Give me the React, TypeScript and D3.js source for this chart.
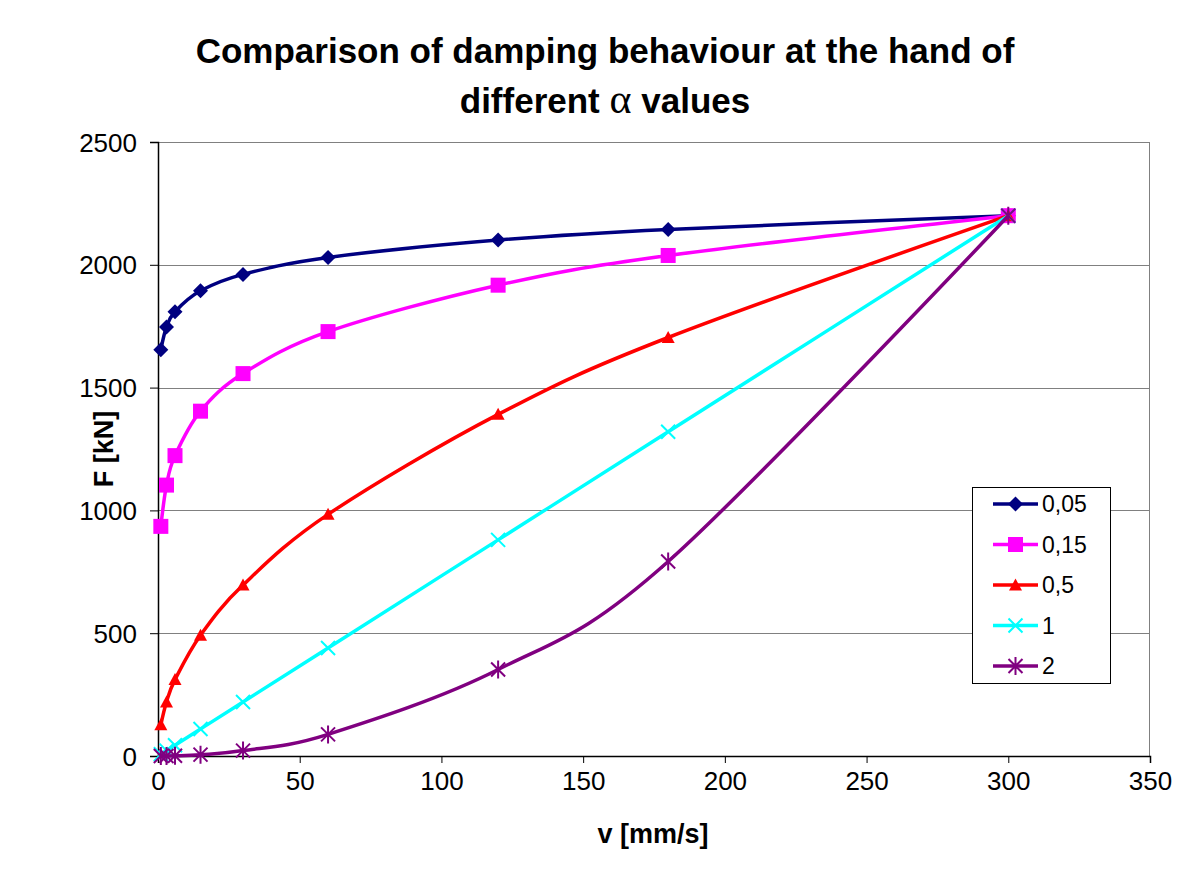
import React, { useEffect, useRef } from 'react';
import * as d3 from 'd3';

// velocities [mm/s]
const velocities = [1, 3, 6, 15, 30, 60, 120, 180, 300];

// damping force [kN] for each alpha
const alpha005 = [1654, 1747, 1809, 1894, 1961, 2030, 2101, 2144, 2200];
const alpha015 = [935, 1103, 1223, 1404, 1557, 1728, 1917, 2038, 2200];
const alpha05 = [127, 220, 311, 492, 696, 984, 1391, 1704, 2200];
const alpha1 = [7, 22, 44, 110, 220, 440, 880, 1320, 2200];
const alpha2 = [0, 0.2, 0.9, 5.5, 22, 88, 352, 792, 2200];

const seriesNames = ['0,05', '0,15', '0,5', '1', '2'];
const seriesColors = ['#000080', '#ff00ff', '#ff0000', '#00ffff', '#800080'];
const seriesMarkers = ['diamond', 'square', 'triangle', 'cross', 'star'];

const xTicks = [0, 50, 100, 150, 200, 250, 300, 350];
const yTicks = [0, 500, 1000, 1500, 2000, 2500];

const font = '"Liberation Sans", Arial, sans-serif';

function drawMarker(g, type, x, y, color) {
  if (type === 'diamond') {
    g.append('path')
      .attr('d', `M${x},${y - 7.5}L${x + 7.5},${y}L${x},${y + 7.5}L${x - 7.5},${y}Z`)
      .attr('fill', color);
  } else if (type === 'square') {
    g.append('rect')
      .attr('x', x - 7.5).attr('y', y - 7.5)
      .attr('width', 15).attr('height', 15)
      .attr('fill', color);
  } else if (type === 'triangle') {
    g.append('path')
      .attr('d', `M${x},${y - 6.5}L${x + 6.5},${y + 5.5}L${x - 6.5},${y + 5.5}Z`)
      .attr('fill', color);
  } else if (type === 'cross') {
    g.append('path')
      .attr('d', `M${x - 7},${y - 7}L${x + 7},${y + 7}M${x - 7},${y + 7}L${x + 7},${y - 7}`)
      .attr('stroke', color).attr('stroke-width', 2).attr('fill', 'none');
  } else {
    g.append('path')
      .attr('d', `M${x - 7},${y - 7}L${x + 7},${y + 7}M${x - 7},${y + 7}L${x + 7},${y - 7}M${x},${y - 9}L${x},${y + 9}`)
      .attr('stroke', color).attr('stroke-width', 2).attr('fill', 'none');
  }
}

export default function App() {
  const ref = useRef(null);

  useEffect(() => {
    const width = 1200;
    const height = 884;
    const margin = { top: 142, right: 50, bottom: 128, left: 158 };
    const innerW = width - margin.left - margin.right;
    const innerH = height - margin.top - margin.bottom;

    const root = d3.select(ref.current);
    root.selectAll('*').remove();

    const svg = root
      .append('svg')
      .attr('width', width)
      .attr('height', height)
      .style('display', 'block')
      .style('font-family', font);

    svg.append('rect')
      .attr('x', 0.5).attr('y', 0.5)
      .attr('width', width - 1).attr('height', height - 1)
      .attr('fill', '#fff').attr('stroke', '#808080');

    const x = d3.scaleLinear().domain([0, 350]).range([0, innerW]);
    const y = d3.scaleLinear().domain([0, 2500]).range([innerH, 0]);

    const g = svg.append('g').attr('transform', `translate(${margin.left},${margin.top})`);

    // gridlines
    g.append('g')
      .selectAll('line')
      .data(yTicks.filter((d) => d > 0))
      .join('line')
      .attr('x1', 0).attr('x2', innerW)
      .attr('y1', (d) => Math.round(y(d)) + 0.5)
      .attr('y2', (d) => Math.round(y(d)) + 0.5)
      .attr('stroke', '#808080').attr('stroke-width', 1);

    g.append('line')
      .attr('x1', innerW - 0.5).attr('x2', innerW - 0.5)
      .attr('y1', 0).attr('y2', innerH)
      .attr('stroke', '#808080');

    // axes
    const xAxis = g.append('g')
      .attr('transform', `translate(0,${innerH})`)
      .call(d3.axisBottom(x).tickValues(xTicks).tickFormat(d3.format('d')).tickSize(7).tickPadding(9));
    const yAxis = g.append('g')
      .call(d3.axisLeft(y).tickValues(yTicks).tickFormat(d3.format('d')).tickSize(8).tickPadding(13));
    [xAxis, yAxis].forEach((a) => {
      a.select('.domain').attr('stroke', '#000').attr('stroke-width', 1.5);
      a.selectAll('.tick line').attr('stroke', '#000');
      a.selectAll('.tick text')
        .attr('font-size', 26)
        .attr('font-family', font)
        .attr('fill', '#000');
    });
    yAxis.selectAll('.tick text').attr('dy', '0.35em');

    const allSeries = [alpha005, alpha015, alpha05, alpha1, alpha2];

    const line = d3.line()
      .x((d) => x(d[0]))
      .y((d) => y(d[1]))
      .curve(d3.curveCatmullRom.alpha(0));

    allSeries.forEach((vals, i) => {
      const pts = velocities.map((v, j) => [v, vals[j]]);
      const sg = g.append('g');
      sg.append('path')
        .datum(pts)
        .attr('d', line)
        .attr('fill', 'none')
        .attr('stroke', seriesColors[i])
        .attr('stroke-width', 3.5);
      pts.forEach((p) => drawMarker(sg, seriesMarkers[i], x(p[0]), y(p[1]), seriesColors[i]));
    });

    // legend
    const lg = svg.append('g').attr('transform', 'translate(972,487)');
    lg.append('rect')
      .attr('x', 0.5).attr('y', 0.5)
      .attr('width', 138).attr('height', 196)
      .attr('fill', '#fff').attr('stroke', '#000');
    seriesNames.forEach((name, i) => {
      const cy = 17 + i * 40.5;
      lg.append('line')
        .attr('x1', 21).attr('x2', 66)
        .attr('y1', cy).attr('y2', cy)
        .attr('stroke', seriesColors[i]).attr('stroke-width', 3.5);
      drawMarker(lg, seriesMarkers[i], 43.5, cy, seriesColors[i]);
      lg.append('text')
        .attr('x', 70).attr('y', cy)
        .attr('dy', '0.36em')
        .attr('font-size', 23)
        .text(name);
    });

    // title
    const title = svg.append('text')
      .attr('text-anchor', 'middle')
      .attr('font-weight', 'bold')
      .attr('font-size', 35);
    title.append('tspan').attr('x', 605).attr('y', 63)
      .text('Comparison of damping behaviour at the hand of');
    const t2 = title.append('tspan').attr('x', 605).attr('y', 113);
    t2.append('tspan').text('different ');
    t2.append('tspan')
      .attr('font-family', '"Liberation Serif", "DejaVu Serif", serif')
      .attr('font-weight', 'normal')
      .attr('font-size', 42)
      .text('α');
    t2.append('tspan').text(' values');

    // axis titles
    svg.append('text')
      .attr('x', 653).attr('y', 843)
      .attr('text-anchor', 'middle')
      .attr('font-weight', 'bold')
      .attr('font-size', 27)
      .text('v [mm/s]');
    svg.append('text')
      .attr('transform', 'translate(113,449) rotate(-90)')
      .attr('text-anchor', 'middle')
      .attr('font-weight', 'bold')
      .attr('font-size', 27)
      .text('F [kN]');
  }, []);

  return <div ref={ref} style={{ margin: -8 }}></div>;
}
